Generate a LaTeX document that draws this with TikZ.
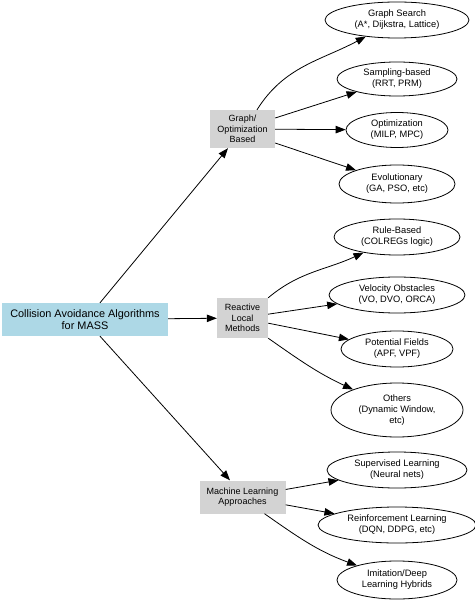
\documentclass[tikz,border=0pt]{standalone}
\usepackage{fontspec}
\setmainfont{Liberation Sans}
\usetikzlibrary{shapes.geometric,arrows.meta}
\definecolor{rootblue}{RGB}{173,216,230}
\definecolor{boxgray}{RGB}{211,211,211}
\begin{document}
\begin{tikzpicture}[x=1pt,y=-1pt,
  rootbox/.style={rectangle,fill=rootblue,minimum width=166pt,minimum height=33pt,inner sep=0pt,align=center,font=\fontsize{10.9}{12}\selectfont},
  catbox/.style={rectangle,fill=boxgray,inner sep=0pt,align=center,font=\fontsize{9}{10.5}\selectfont},
  leaf/.style={ellipse,draw=black,line width=0.8pt,inner sep=0pt,align=center,font=\fontsize{9.3}{11}\selectfont},
  conn/.style={draw=black,line width=0.8pt,-{Triangle[length=10pt,width=7.5pt]}}]
\useasboundingbox (0,0) rectangle (474,601);
\node[rootbox] (root) at (85,319.5) {Collision Avoidance Algorithms\\for MASS};
\node[catbox,minimum width=65pt,minimum height=38pt] (graph) at (242.5,129) {Graph/\\Optimization\\Based};
\node[catbox,minimum width=51pt,minimum height=40pt] (react) at (242.5,318) {Reactive\\Local\\Methods};
\node[catbox,minimum width=86pt,minimum height=33pt] (ml) at (242.5,497) {Machine Learning\\Approaches};
\node[leaf,minimum width=144pt,minimum height=36pt] (gs) at (397,20) {Graph Search\\(A*, Dijkstra, Lattice)};
\node[leaf,minimum width=120pt,minimum height=34pt] (sb) at (397,79) {Sampling-based\\(RRT, PRM)};
\node[leaf,minimum width=102pt,minimum height=35pt] (opt) at (397,130) {Optimization\\(MILP, MPC)};
\node[leaf,minimum width=116pt,minimum height=38pt] (evo) at (397,184) {Evolutionary\\(GA, PSO, etc)};
\node[leaf,minimum width=126pt,minimum height=36pt] (rb) at (397,237) {Rule-Based\\(COLREGs logic)};
\node[leaf,minimum width=136pt,minimum height=36pt] (vo) at (397,295) {Velocity Obstacles\\(VO, DVO, ORCA)};
\node[leaf,minimum width=112pt,minimum height=36pt] (pf) at (397,349) {Potential Fields\\(APF, VPF)};
\node[leaf,minimum width=132pt,minimum height=54pt] (oth) at (397,410) {Others\\(Dynamic Window,\\etc)};
\node[leaf,minimum width=140pt,minimum height=36pt] (sl) at (397,470) {Supervised Learning\\(Neural nets)};
\node[leaf,minimum width=158pt,minimum height=36pt] (rl) at (397,525) {Reinforcement Learning\\(DQN, DDPG, etc)};
\node[leaf,minimum width=120pt,minimum height=38pt] (il) at (397,580) {Imitation/Deep\\Learning Hybrids};
\path[conn] (root.north -| 100,0) -- (graph.south west -| 228,0);
\path[conn] (root) -- (react);
\path[conn] (root.south -| 100,0) -- (ml.north west -| 230,0);
\path[conn] (graph.north -| 257,0) to[out=58,in=208] (gs);
\path[conn] (graph.east |- 0,118) -- (sb);
\path[conn] (graph) -- (opt);
\path[conn] (graph.east |- 0,143) -- (evo);
\path[conn] (react.north east) to[out=40,in=205] (rb);
\path[conn] (react) -- (vo);
\path[conn] (react) -- (pf);
\path[conn] (react.south east) to[out=-35,in=155] (oth);
\path[conn] (ml) -- (sl);
\path[conn] (ml) -- (rl);
\path[conn] (ml.south) ++(22,0) coordinate (mls) to[out=-35,in=160] (il);
\end{tikzpicture}
\end{document}
